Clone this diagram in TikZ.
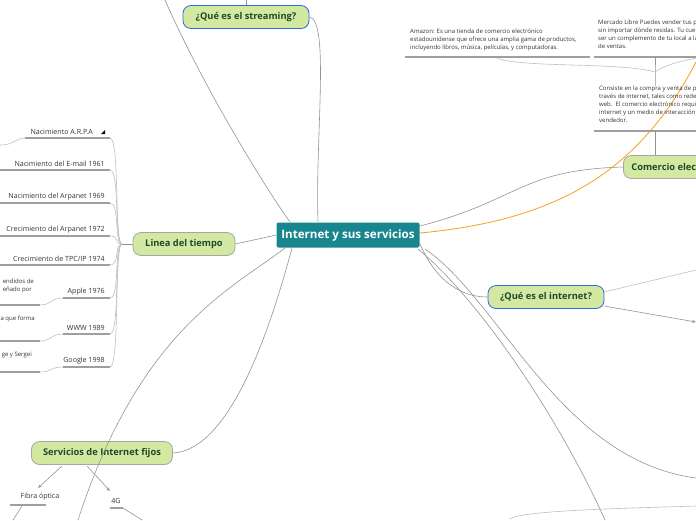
\documentclass[tikz,border=0pt]{standalone}
\usepackage{fontspec}
\setmainfont{Open Sans}
\usetikzlibrary{arrows.meta}
\definecolor{teal1}{HTML}{17868F}
\definecolor{green1}{HTML}{D3E8A1}
\definecolor{gtext}{HTML}{1E4A2A}
\definecolor{blue1}{HTML}{2F6AE0}
\definecolor{orange1}{HTML}{F5A020}
\tikzset{
 x=1pt,y=-1pt,
 topic/.style={rounded corners=8pt,fill=green1,draw=gray!70,line width=0.8pt,font=\fontsize{9.3}{11}\selectfont\bfseries,text=gtext,minimum height=23pt,inner xsep=8pt},
 bluetopic/.style={topic,draw=blue1},
 conn/.style={draw=gray!85,line width=0.6pt},
 light/.style={draw=gray!50,line width=0.6pt},
 small/.style={font=\fontsize{6}{8}\selectfont,text=black!80,inner sep=0pt,align=left},
 lbl/.style={font=\fontsize{7.1}{8}\selectfont,text=black!80,inner sep=0pt},
 uline/.style={draw=gray!75,line width=1.2pt},
 arr/.style={conn,-{Stealth[length=4pt]}},
}
\begin{document}
\begin{tikzpicture}
\useasboundingbox (0,0) rectangle (696,520);
\clip (0,0) rectangle (696,520);
% central
\node[rounded corners=2pt,fill=teal1,text=white,font=\fontsize{11.6}{13}\selectfont\bfseries,minimum width=143pt,minimum height=25pt,inner sep=2pt] (c) at (348,235) {Internet y sus servicios};
\node[bluetopic,minimum width=126pt] (s) at (246,17) {¿Qué es el streaming?};
\node[topic,anchor=west] (ce) at (623,167) {Comercio electrónico};
\node[bluetopic,minimum width=116pt] (qi) at (546,297) {¿Qué es el internet?};
\node[topic,minimum width=102pt] (lt) at (184,244) {Linea del tiempo};
\node[topic,minimum width=141pt] (sf) at (102,453) {Servicios de Internet fijos};
\coordinate (top1) at (165,0);
\coordinate (bl1) at (78,520);
\coordinate (br1) at (696,478);
\coordinate (br2) at (605,520);
\coordinate (orr) at (696,62);
% central connectors
\draw[conn] (s.east) .. controls (330,20) and (315,140) .. (318,222);
\draw[conn] (246,0) -- (s.north);
\draw[conn] (top1) .. controls (200,80) and (260,180) .. (290,222);
\draw[conn] (420,226) .. controls (520,200) and (520,170) .. (ce.west);
\draw[orange1,line width=0.8pt] (420,233) .. controls (560,220) and (640,170) .. (orr);
\draw[conn] (420,244) .. controls (440,290) and (470,297) .. (qi.west);
\draw[conn] (425,249) .. controls (500,300) and (560,460) .. (br1);
\draw[conn] (418,249) .. controls (480,300) and (560,420) .. (br2);
\draw[conn] (lt.east) -- (c.west);
\draw[conn] (sf.east) .. controls (230,450) and (270,330) .. (292,248);
\draw[conn] (bl1) .. controls (140,330) and (230,290) .. (285,248);
% internet right
\coordinate (ir1) at (696,270);
\coordinate (ir2) at (696,322);
\draw[light] (604,292) -- (ir1);
\draw[arr] (604,306) -- (ir2);
% comercio
\node[small,anchor=north west] (cons) at (599,86) {Consiste en la compra y venta de productos a\\través de internet, tales como redes sociales y\\web.\ \ El comercio electrónico requiere de conexión a\\internet y un medio de interacción entre comprador y\\vendedor.};
\draw[uline] (594,131) -- (696,131);
\draw[conn] (655,155) -- (655,131);
\node[small,anchor=north west] (merc) at (598,20) {Mercado Libre Puedes vender tus productos\\sin importar dónde residas. Tu cuenta puede\\ser un complemento de tu local a la hora\\de ventas.};
\draw[uline] (594,57) -- (696,57);
\node[small,anchor=north west] (amz) at (410,29) {Amazon: Es una tienda de comercio electrónico\\estadounidense que ofrece una amplia gama de productos,\\incluyendo libros, música, películas, y computadoras.};
\draw[uline] (405,57) -- (590,57);
\coordinate (j) at (655,72);
\draw[conn] (655,86) -- (j) -- (655,57);
\draw[light] (j) .. controls (620,62) and (520,68) .. (497,58);
\draw[light] (j) .. controls (670,62) and (690,60) .. (696,58);
% timeline
\coordinate (tj) at (122,244);
\draw[conn] (lt.west) -- (tj);
\foreach \t/\y/\xs/\xe in {{Nacimiento A.R.P.A}/131/25/93,{Nacimiento del E-mail 1961}/163/0/105,{Nacimiento del Arpanet 1969}/196/0/105,{Crecimiento del Arpanet 1972}/229/0/105,{Crecimiento de TPC{/}IP 1974}/258/0/105,{Apple 1976}/291/63/105,{WWW 1989}/327/63/105,{Google 1998}/360/63/105}{
 \node[lbl,anchor=south east] at (\xe,\y+4) {\t};
 \draw[uline] (\xs,\y+7) -- (110,\y+7);
 \draw[light] (110,\y+7) .. controls (120,\y+7) and (114,244) .. (tj);
}
\fill[black] (101,134) -- (105,130) -- (105,134) -- cycle;
\draw[light] (25,138) .. controls (15,138) and (15,145) .. (0,145);
\node[small,anchor=north east] at (34,279) {endidos de\\eñado por};
\draw[uline] (0,305) -- (40,305);
\draw[light] (40,305) .. controls (52,305) and (50,298) .. (63,298);
\node[small,anchor=north east] at (35,316) {ca que forma};
\draw[uline] (0,341) -- (40,341);
\draw[light] (40,341) .. controls (52,341) and (50,334) .. (63,334);
\node[small,anchor=north east] at (32,352) {ge y Sergei};
\draw[uline] (0,372) -- (40,372);
\draw[light] (40,372) .. controls (52,372) and (50,367) .. (63,367);
% servicios
\node[lbl] (fo) at (40,497) {Fibra óptica};
\draw[uline] (10,505) -- (46,505);
\node[lbl] (g4) at (116,501) {4G};
\draw[uline] (110,508) -- (123,508);
\draw[arr] (62,466) -- (38,488);
\draw[arr] (87,466) -- (110,491);
\draw[conn] (22,506) -- (13,520);
\draw[conn] (123,508) -- (142,520);
% bottom
\draw[light] (510,519) .. controls (520,510) and (640,508) .. (696,506);
\end{tikzpicture}
\end{document}
